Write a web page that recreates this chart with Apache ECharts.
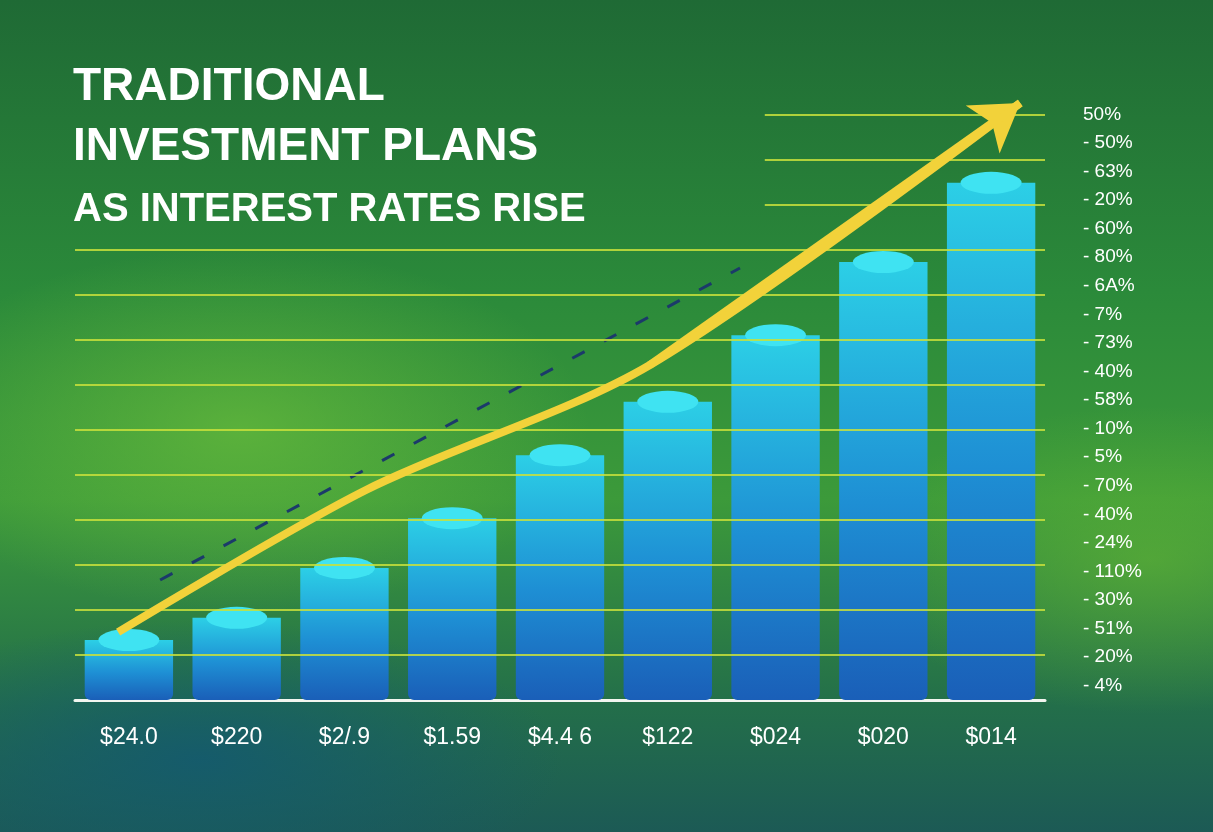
<!DOCTYPE html>
<html>
<head>
<meta charset="utf-8">
<script src="https://cdn.jsdelivr.net/npm/echarts@6/dist/echarts.min.js"></script>
<style>
html,body{margin:0;padding:0;width:1213px;height:832px;overflow:hidden;}
body{background:
  radial-gradient(ellipse 500px 260px at 240px 430px, rgba(120,200,60,0.55), rgba(120,200,60,0) 70%),
  radial-gradient(ellipse 420px 220px at 1150px 560px, rgba(110,190,50,0.5), rgba(110,190,50,0) 70%),
  radial-gradient(ellipse 520px 200px at 200px 760px, rgba(20,90,110,0.9), rgba(20,90,110,0) 70%),
  linear-gradient(180deg,#1f6a35 0%,#2b8a3a 35%,#3c9a3a 60%,#236e4a 85%,#1c5a55 100%);}
#main{width:1213px;height:832px;}
</style>
</head>
<body>
<div id="main"></div>
<script>
var categories = ['$24.0', '$220', '$2/.9', '$1.59', '$4.4 6', '$122', '$024', '$020', '$014'];
var barValues = [10, 13.7, 22, 30.3, 40.8, 49.7, 60.8, 73, 86.2];
var rightLabels = ['50%', '- 50%', '- 63%', '- 20%', '- 60%', '- 80%', '- 6A%', '- 7%', '- 73%', '- 40%',
  '- 58%', '- 10%', '- 5%', '- 70%', '- 40%', '- 24%', '- 110%', '- 30%', '- 51%', '- 20%', '- 4%'];
var fullLines = [7.5, 15, 22.5, 30, 37.5, 45, 52.5, 60, 67.5, 75];
var shortLines = [82.5, 90, 97.5];
var arrowPoints = [[-0.1, 11.3], [2.2, 35], [4.83, 55.8], [8.27, 99.5]];
var dashedPoints = [[0.29, 20], [5.67, 72]];

var chart = echarts.init(document.getElementById('main'));
var barColor = new echarts.graphic.LinearGradient(0, 0, 0, 1, [
  {offset: 0, color: '#2ccfe6'}, {offset: 0.55, color: '#1e8fd4'}, {offset: 1, color: '#1a5fb8'}]);
var lineStyle = {color: 'rgba(200,225,60,0.85)', width: 2, type: 'solid'};
var gridLines = fullLines.map(function (v) {
  return [{coord: [-0.5, v]}, {coord: [8.5, v]}];
}).concat(shortLines.map(function (v) {
  return [{coord: [5.9, v]}, {coord: [8.5, v]}];
}));
var n = arrowPoints.length;

chart.setOption({
  title: {
    left: 68, top: 52,
    text: '{a|TRADITIONAL}\n{a|INVESTMENT PLANS}\n{b|AS INTEREST RATES RISE}',
    textStyle: {
      rich: {
        a: {fontFamily: 'Liberation Sans', fontWeight: 'bold', fontSize: 46, color: '#ffffff', lineHeight: 60},
        b: {fontFamily: 'Liberation Sans', fontSize: 40, color: '#ffffff', lineHeight: 66}
      }
    }
  },
  grid: {left: 75, right: 168, top: 100, bottom: 132},
  xAxis: [{
    type: 'category', data: categories,
    axisLine: {lineStyle: {color: '#f2f6f0', width: 3}},
    axisTick: {show: false},
    axisLabel: {color: '#ffffff', fontSize: 23, margin: 26, fontFamily: 'Liberation Sans'}
  }, {
    type: 'value', min: -0.5, max: 8.5, show: false
  }],
  yAxis: [{
    type: 'value', min: 0, max: 100, interval: 7.5,
    axisLabel: {show: false}, axisLine: {show: false}, axisTick: {show: false},
    splitLine: {show: false}
  }, {
    type: 'category', position: 'right', offset: 30,
    data: rightLabels.slice().reverse(),
    axisLine: {show: false}, axisTick: {show: false},
    axisLabel: {color: '#ffffff', fontSize: 19, fontFamily: 'Liberation Sans'}
  }],
  series: [{
    type: 'line', xAxisIndex: 1, data: [], z: 1,
    markLine: {silent: true, symbol: 'none', label: {show: false}, lineStyle: lineStyle, data: gridLines}
  }, {
    type: 'bar', data: barValues, barWidth: '82%', z: 2,
    itemStyle: {color: barColor, borderRadius: [0, 0, 6, 6]}
  }, {
    type: 'pictorialBar', data: barValues, symbol: 'circle',
    symbolSize: ['82%', 22], symbolPosition: 'end', symbolOffset: [0, '-50%'], z: 3,
    itemStyle: {color: '#3fe3f2'}
  }, {
    type: 'line', xAxisIndex: 1, data: dashedPoints, symbol: 'none', z: 4,
    lineStyle: {color: '#1b3a6a', width: 3, type: [14, 22]}
  }, {
    type: 'line', xAxisIndex: 1, data: arrowPoints, symbol: 'none', smooth: 0.3, z: 5,
    lineStyle: {color: '#f2d23a', width: 8},
    markLine: {
      silent: true, symbol: ['none', 'arrow'], symbolSize: [44, 46],
      label: {show: false},
      lineStyle: {color: '#f2d23a', width: 8, type: 'solid'},
      data: [[{coord: arrowPoints[n - 2]}, {coord: arrowPoints[n - 1]}]]
    }
  }]
});
</script>
</body>
</html>
